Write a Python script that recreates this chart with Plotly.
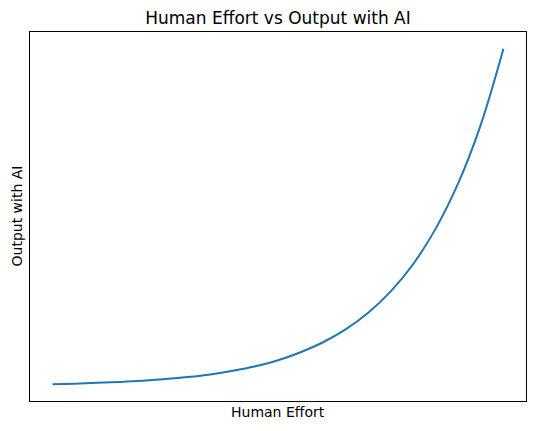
import plotly.graph_objects as go

# values (arbitrary units)
effort = [0.0, 0.25, 0.5, 0.75, 1.0, 1.25, 1.5, 1.75, 2.0, 2.25, 2.5,
          2.75, 3.0, 3.25, 3.5, 3.75, 4.0, 4.25, 4.5, 4.75, 5.0]
output = [1.0, 1.25, 1.6, 2.0, 2.55, 3.25, 4.15, 5.3, 6.9, 8.9, 11.5,
          15.0, 19.4, 25.0, 32.3, 41.7, 53.7, 69.3, 89.2, 114.9, 148.0]

font = "DejaVu Sans"

fig = go.Figure(go.Scatter(
    x=effort, y=output,
    mode='lines',
    line=dict(color='#1f77b4', width=2, shape='spline'),
    hoverinfo='none'
))

xpad = 0.05 * (max(effort) - min(effort))
ypad = 0.05 * (max(output) - min(output))

axis_style = dict(showgrid=False, zeroline=False, showticklabels=False, ticks='',
                  showline=True, linecolor='black', linewidth=1, mirror=True)

# page has an 8px body margin, so the figure is a bit smaller than the window
fig.update_layout(
    width=527, height=423,
    margin=dict(l=22, r=9, t=24, b=30),
    paper_bgcolor='white', plot_bgcolor='white',
    showlegend=False,
    font=dict(family=font, color='black'),
    title=dict(text="Human Effort vs Output with AI", x=0.5, xref='paper',
               y=1 - 10 / 423, yanchor='middle', font=dict(size=17, family=font)),
    xaxis=dict(range=[min(effort) - xpad, max(effort) + xpad], **axis_style),
    yaxis=dict(range=[min(output) - ypad, max(output) + ypad], **axis_style),
    annotations=[
        dict(text="Human Effort", xref='paper', yref='paper', x=0.5, y=0,
             yanchor='middle', yshift=-11, showarrow=False,
             font=dict(size=14, family=font)),
        dict(text="Output with AI", xref='paper', yref='paper', x=0, y=0.5,
             xanchor='center', xshift=-14, textangle=-90, showarrow=False,
             font=dict(size=14, family=font)),
    ]
)

fig.write_html("out.html")
